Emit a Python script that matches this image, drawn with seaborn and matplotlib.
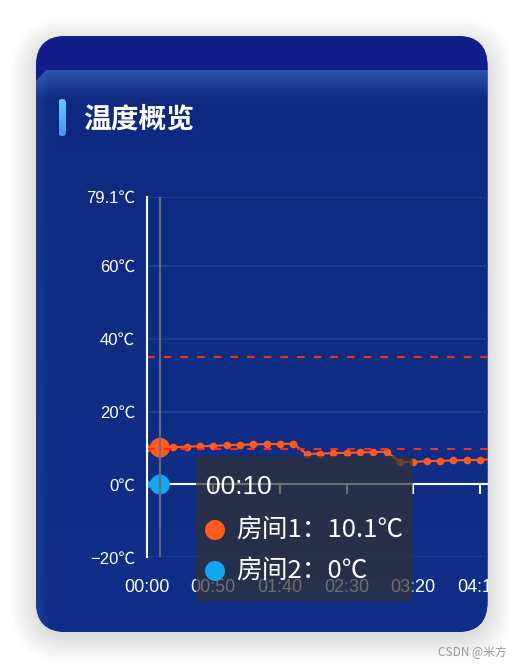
import numpy as np
import pandas as pd
import matplotlib
matplotlib.use('Agg')
import matplotlib.pyplot as plt
import seaborn as sns
from matplotlib.patches import FancyBboxPatch, Circle, Polygon
from matplotlib.transforms import Bbox, TransformedBbox

# ------------ data ------------
times = ['00:00', '00:10', '00:20', '00:30', '00:40', '00:50', '01:00', '01:10', '01:20',
         '01:30', '01:40', '01:50', '02:00', '02:10', '02:20', '02:30', '02:40', '02:50',
         '03:00', '03:10', '03:20', '03:30', '03:40', '03:50', '04:00', '04:10', '04:20']
room1 = [10.0, 10.1, 10.2, 10.4, 10.5, 10.6, 10.8, 10.9, 11.0, 11.1, 11.1, 11.2,
         8.4, 8.5, 8.6, 8.7, 8.8, 8.9, 9.0,
         6.2, 6.2, 6.4, 6.5, 6.6, 6.7, 6.8, 6.9]
room2 = [0.0, 0.0]
mark_lines = [35, 9.8]
y_ticks = [-20, 0, 20, 40, 60, 79.1]
label_step = 5
hover = 1

ORANGE = '#ff5b1f'
BLUE = '#13a6ee'

sns.set_theme(style='white')
plt.rcParams['font.family'] = ['Liberation Sans', 'Noto Sans CJK SC', 'DejaVu Sans']

W, H = 528, 668
fig = plt.figure(figsize=(W / 100, H / 100), dpi=100)
fig.patch.set_facecolor('white')

# ------------ background card (pixel coords) ------------
bg = fig.add_axes([0, 0, 1, 1], zorder=0)
bg.set_xlim(0, W)
bg.set_ylim(H, 0)
bg.axis('off')

cx0, cy0, cx1, cy1 = 36, 36, 487.5, 632
# soft drop shadow
for i in range(1, 18):
    d = i * 1.6
    sh = FancyBboxPatch((cx0 - d + 2, cy0 - d + 9), cx1 - cx0 + 2 * d - 4, cy1 - cy0 + 2 * d - 6,
                        boxstyle='round,pad=0,rounding_size=%f' % (30 + d),
                        fc='black', ec='none', alpha=0.009)
    bg.add_patch(sh)

card = FancyBboxPatch((cx0, cy0), cx1 - cx0, cy1 - cy0,
                      boxstyle='round,pad=0,rounding_size=30', fc='#0e2a80', ec='none')
bg.add_patch(card)

# vertical gradient of the card
yy = np.arange(H)[:, None]
top_c = np.array([17, 29, 136]) / 255
edge_c = np.array([46, 82, 172]) / 255
body_c = np.array([14, 42, 128]) / 255
low_c = np.array([16, 47, 138]) / 255
t = np.clip((yy - 70) / 28, 0, 1)
band = edge_c * (1 - t[..., None]) + body_c * t[..., None]
tb = np.clip((yy - 98) / 534, 0, 1)
body = body_c * (1 - tb[..., None]) + low_c * tb[..., None]
img = np.where((yy < 70)[..., None], top_c, np.where((yy < 98)[..., None], band, body))
img = np.repeat(img, W, axis=1)
# slightly lighter left edge
xx = np.arange(W)[None, :]
lift = np.clip(1 - (xx - 36) / 14, 0, 1)[..., None] * 0.05
img = np.clip(img + lift * (yy >= 70)[..., None], 0, 1)
im = bg.imshow(img, extent=(0, W, H, 0), aspect='auto', zorder=1)
im.set_clip_path(card)
bevel = Polygon([[36, 70], [46, 70], [36, 81]], closed=True, fc=top_c, ec='none', zorder=2)
bg.add_patch(bevel)
bevel.set_clip_path(card)

# accent bar + title
bar = FancyBboxPatch((58.5, 99), 7.5, 37, boxstyle='round,pad=0,rounding_size=3.7',
                     fc='none', ec='none', zorder=3)
bg.add_patch(bar)
grad = np.linspace(0, 1, 50)[:, None, None]
bar_img = np.array([0.38, 0.80, 0.98]) * (1 - grad) + np.array([0.30, 0.58, 0.95]) * grad
bim = bg.imshow(bar_img, extent=(58.5, 66, 136, 99), aspect='auto', zorder=3)
bim.set_clip_path(bar)
bg.set_xlim(0, W)
bg.set_ylim(H, 0)
bg.text(83, 120, '温度概览', color='white', fontsize=20, fontweight='bold',
        family=['Noto Sans CJK SC'], ha='left', va='center', zorder=4)
bg.text(507, 652, 'CSDN @米方', color='#9a9a9a', fontsize=8.5,
        family=['Noto Sans CJK SC', 'DejaVu Sans'], ha='right', va='center')

# ------------ chart ------------
x_left, x_right = 146.6, 487.5
y_top, y_bot = 196.5, 557.3
step = 13.33
ax = fig.add_axes([x_left / W, (H - y_bot) / H, (x_right - x_left) / W, (y_bot - y_top) / H],
                  zorder=2)
ax.patch.set_alpha(0)

df1 = pd.DataFrame({'idx': np.arange(len(room1)), 'temp': room1})
df2 = pd.DataFrame({'idx': np.arange(len(room2)), 'temp': room2})

ax.axhline(0, color='white', lw=1.5, zorder=2.5)
x_ticks = list(range(0, len(times), label_step))
ax.vlines(x_ticks, -2.5, 0, color='white', lw=1.5, zorder=2.5)

sns.lineplot(data=df1, x='idx', y='temp', ax=ax, color=ORANGE, lw=1.5, marker='o',
             markersize=5.5, markeredgewidth=0, zorder=3)
sns.lineplot(data=df2, x='idx', y='temp', ax=ax, color=BLUE, lw=1.5, marker='o',
             markersize=5.5, markeredgewidth=0, zorder=3)
ax.scatter([hover], [room1[hover]], s=205, color=ORANGE, edgecolor='none', zorder=3.5)
ax.scatter([hover], [room2[hover]], s=205, color=BLUE, edgecolor='none', zorder=3.5)

for v in mark_lines:
    ax.axhline(v, color='#fa2d1a', lw=1.5, ls=(0, (3.7, 4.3)), zorder=4)

ax.axvline(hover, color='#6a6e7c', lw=1.4, zorder=6)

ax.set_xlim(0, (x_right - x_left) / step)
ax.set_ylim(y_ticks[0], y_ticks[-1])
ax.set_yticks(y_ticks, [('%g℃' % v).replace('-', '\u2212') for v in y_ticks])
ax.set_xticks(x_ticks, [times[i] for i in x_ticks])
ax.grid(axis='y', color='#27408e', lw=1.1)
ax.grid(axis='x', visible=False)
ax.tick_params(axis='both', length=0, colors='white')
ax.tick_params(axis='y', pad=8.4, labelsize=12)
ax.tick_params(axis='x', pad=15.5, labelsize=13)
ax.set_xlabel('')
ax.set_ylabel('')
for s in ['top', 'right', 'bottom']:
    ax.spines[s].set_visible(False)
ax.spines['left'].set_color('white')
ax.spines['left'].set_linewidth(1.5)
ax.spines['left'].set_zorder(5)
# the card cuts the last label
card_box = TransformedBbox(Bbox.from_extents(0, 0, cx1 / W, 1), fig.transFigure)
for lab in ax.get_xticklabels():
    lab.set_clip_box(card_box)
    lab.set_clip_on(True)

# ------------ tooltip overlay ------------
ov = fig.add_axes([0, 0, 1, 1], zorder=5)
ov.set_xlim(0, W)
ov.set_ylim(H, 0)
ov.axis('off')
ov.patch.set_alpha(0)
tip = FancyBboxPatch((196, 456), 216.7, 145.7, boxstyle='round,pad=0,rounding_size=6',
                     fc=(50 / 255, 50 / 255, 50 / 255), alpha=0.7, ec='none')
ov.add_patch(tip)
tip_font = ['Noto Sans CJK SC', 'DejaVu Sans']
ov.text(206, 487, times[hover], color='white', fontsize=19, family=['Liberation Sans', 'Noto Sans CJK SC'],
        ha='left', va='center')
ov.add_patch(Circle((215, 530), 10, fc=ORANGE, ec='none'))
ov.add_patch(Circle((215, 571), 10, fc=BLUE, ec='none'))
ov.text(236, 530, '房间1：%g℃' % room1[hover], color='white', fontsize=18.5, family=tip_font,
        ha='left', va='center')
ov.text(236, 571, '房间2：%g℃' % room2[hover], color='white', fontsize=18.5, family=tip_font,
        ha='left', va='center')

plt.savefig('out.png', dpi=100)
